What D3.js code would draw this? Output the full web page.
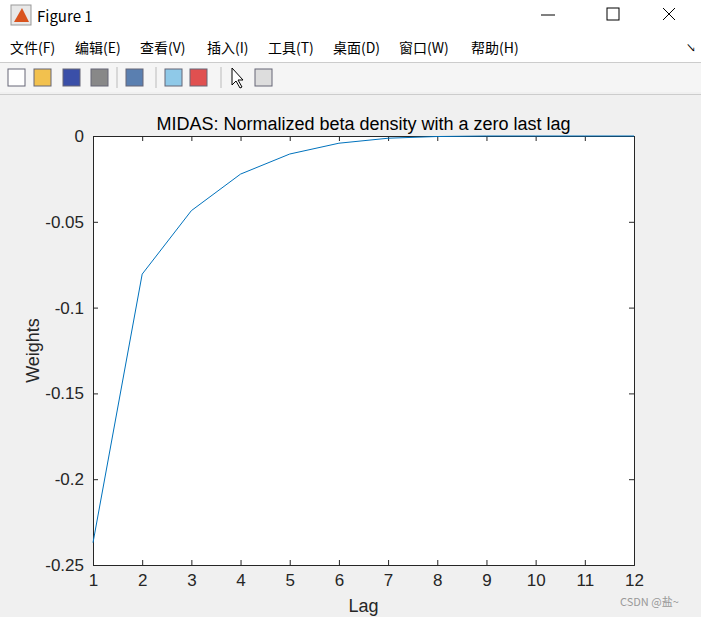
<!doctype html>
<html>
<head>
<meta charset="utf-8">
<script src="https://cdn.jsdelivr.net/npm/d3@7"></script>
<style>
body { margin:0; background:#f0f0f0; font-family:"Noto Sans CJK SC","Noto Sans",sans-serif; }
svg { display:block; }
</style>
</head>
<body>
<svg id="c" width="701" height="617"></svg>
<script>
// chart data
var lags = [1,2,3,4,5,6,7,8,9,10,11,12];
var weights = [-0.237,-0.0805,-0.0435,-0.0222,-0.0105,-0.0042,-0.0013,-0.0003,0,0,0,0];
var xTicks = [1,2,3,4,5,6,7,8,9,10,11,12];
var yTicks = [0,-0.05,-0.1,-0.15,-0.2,-0.25];
var menus = ["文件(F)","编辑(E)","查看(V)","插入(I)","工具(T)","桌面(D)","窗口(W)","帮助(H)"];

var svg = d3.select("#c");

// window chrome
svg.append("rect").attr("width",701).attr("height",62).attr("fill","#fff");
svg.append("rect").attr("x",11).attr("y",5).attr("width",20).attr("height",20).attr("fill","#e8e8e8").attr("stroke","#999");
svg.append("path").attr("d","M14,22 L22,8 L29,22 Z").attr("fill","#d9531e");
svg.append("text").attr("x",37).attr("y",22).attr("font-size",15).attr("fill","#000").text("Figure 1");
svg.append("line").attr("x1",541).attr("x2",555).attr("y1",15).attr("y2",15).attr("stroke","#000");
svg.append("rect").attr("x",607).attr("y",8).attr("width",12).attr("height",12).attr("fill","none").attr("stroke","#000");
svg.append("path").attr("d","M663,8 L675,20 M675,8 L663,20").attr("stroke","#000");
var mx = [10,75,140,207,268,333,399,471];
menus.forEach(function(m,i){
  svg.append("text").attr("x",mx[i]).attr("y",53).attr("font-size",14).text(m);
});
svg.append("text").attr("x",686).attr("y",52).attr("font-size",10).text("↘");
svg.append("rect").attr("y",62).attr("width",701).attr("height",30).attr("fill","#f5f5f5");
svg.append("line").attr("x1",0).attr("x2",701).attr("y1",62.5).attr("y2",62.5).attr("stroke","#ccc");
svg.append("line").attr("x1",0).attr("x2",701).attr("y1",94.5).attr("y2",94.5).attr("stroke","#ccc");
var icons = [[8,"#fff"],[34,"#f2c14e"],[63,"#3a4fa8"],[91,"#888"],[126,"#5a7fb0"],[165,"#8fc9e8"],[190,"#e05050"],[255,"#ddd"]];
icons.forEach(function(c){
  svg.append("rect").attr("x",c[0]).attr("y",69).attr("width",17).attr("height",17).attr("fill",c[1]).attr("stroke","#667");
});
svg.append("path").attr("d","M232,68 L232,85 L236,81 L240,88 L242,87 L238,80 L243,80 Z").attr("fill","#fff").attr("stroke","#000");
[117,156,221].forEach(function(x){
  svg.append("line").attr("x1",x).attr("x2",x).attr("y1",67).attr("y2",88).attr("stroke","#bbb");
});

// plot
var L = 93, R = 634, T = 136, B = 565;
var x = d3.scaleLinear().domain([1,12]).range([L,R]);
var y = d3.scaleLinear().domain([-0.25,0]).range([B,T]);

svg.append("rect").attr("x",L).attr("y",T).attr("width",R-L).attr("height",B-T).attr("fill","#fff");

var fmt = function(d){ return d === 0 ? "0" : String(d); };
var ax = [
  svg.append("g").attr("transform","translate(0,"+B+")").call(d3.axisBottom(x).tickValues(xTicks).tickSize(-5).tickPadding(9)),
  svg.append("g").attr("transform","translate(0,"+T+")").call(d3.axisTop(x).tickValues(xTicks).tickSize(-5).tickFormat("")),
  svg.append("g").attr("transform","translate("+L+",0)").call(d3.axisLeft(y).tickValues(yTicks).tickSize(-5).tickPadding(9).tickFormat(fmt)),
  svg.append("g").attr("transform","translate("+R+",0)").call(d3.axisRight(y).tickValues(yTicks).tickSize(-5).tickFormat(""))
];
ax.forEach(function(g){
  g.attr("font-size",17).attr("font-family","Liberation Sans, Arial, sans-serif");
  g.select(".domain").attr("stroke","#262626");
  g.selectAll(".tick line").attr("stroke","#262626");
  g.selectAll("text").attr("fill","#262626");
});

svg.append("path").datum(lags)
  .attr("d", d3.line().x(function(d){ return x(d); }).y(function(d,i){ return y(weights[i]); }))
  .attr("fill","none").attr("stroke","#0072bd").attr("stroke-width",1);

svg.append("text").attr("x",(L+R)/2).attr("y",130).attr("text-anchor","middle")
  .attr("font-size",18).attr("fill","#000").attr("font-family","Liberation Sans, Arial, sans-serif")
  .text("MIDAS: Normalized beta density with a zero last lag");
svg.append("text").attr("x",(L+R)/2).attr("y",612).attr("text-anchor","middle")
  .attr("font-size",18).attr("fill","#262626").attr("font-family","Liberation Sans, Arial, sans-serif").text("Lag");
svg.append("text").attr("transform","translate(39,"+((T+B)/2)+") rotate(-90)").attr("text-anchor","middle")
  .attr("font-size",18).attr("fill","#262626").attr("font-family","Liberation Sans, Arial, sans-serif").text("Weights");
svg.append("text").attr("x",620).attr("y",606).attr("font-size",11).attr("fill","#999").text("CSDN @盐~");
</script>
</body>
</html>
